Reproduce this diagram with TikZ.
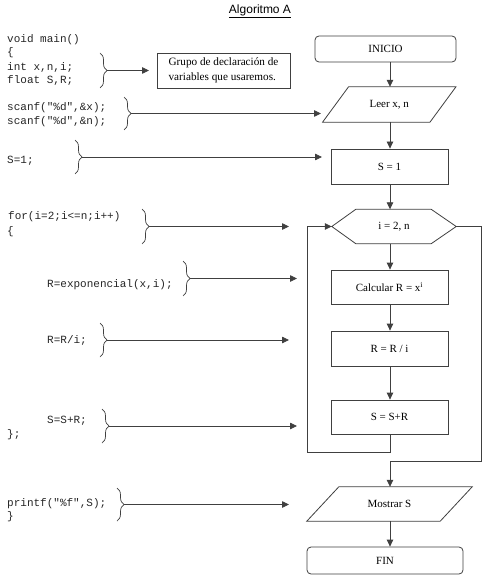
\documentclass[tikz,border=0pt]{standalone}
\usepackage{fontspec}
\setmainfont{Liberation Serif}
\newfontfamily\codefont{Liberation Mono}
\newfontfamily\titlefont{Liberation Sans}
\usetikzlibrary{arrows.meta,decorations.pathreplacing,calc}
\begin{document}
\begin{tikzpicture}[x=1pt,y=-1pt,
  line/.style={draw=black!75, line width=0.8pt},
  arr/.style={line, -{Triangle[length=7pt,width=6.5pt]}},
  code/.style={anchor=west, inner sep=0pt, font=\codefont\fontsize{11}{13}\selectfont, text=black!85},
  box/.style={draw=black!75, line width=0.8pt, minimum width=117pt, minimum height=35pt, inner sep=0pt, font=\fontsize{11}{12}\selectfont},
  ghost/.style={minimum height=35pt, inner sep=0pt, font=\fontsize{11}{12}\selectfont},
  term/.style={box, rounded corners=4pt},
  brc/.style={line, line width=0.7pt, decorate, decoration={brace, amplitude=7pt}}]
\useasboundingbox[fill=white] (0,0) rectangle (491,577);

% title
\node[font=\titlefont\fontsize{12}{14}\selectfont, inner sep=0pt] (title) at (260,11) {\underline{Algoritmo A}};

% code
\node[code] (c1) at (7,40) {void main()};
\node[code] (c2) at (7,53) {\{};
\node[code] (c3) at (7,67) {int x,n,i;};
\node[code] (c4) at (7,80) {float S,R;};
\node[code] (c5) at (7,108) {scanf("\%d",\&x);};
\node[code] (c6) at (7,122) {scanf("\%d",\&n);};
\node[code] (c7) at (7,161) {S=1;};
\node[code] (c8) at (8,217) {for(i=2;i<=n;i++)};
\node[code] (c9) at (7,232) {\{};
\node[code] (c10) at (47,285) {R=exponencial(x,i);};
\node[code] (c11) at (47,340) {R=R/i;};
\node[code] (c12) at (47,421) {S=S+R;};
\node[code] (c13) at (7,435) {\};};
\node[code] (c14) at (7,504) {printf("\%f",S);};
\node[code] (c15) at (7,517) {\}};

% braces
\draw[brc] (100,53) -- (100,88);
\draw[brc] (124,97) -- (124,130);
\draw[brc] (75,140) -- (75,174);
\draw[brc] (142,209) -- (142,244);
\draw[brc] (183,261) -- (183,296);
\draw[brc] (100,323) -- (100,357);
\draw[brc] (102,409) -- (102,443);
\draw[brc] (117,488) -- (117,521);
\coordinate (b1) at (107,70.5);
\coordinate (b2) at (131,113.5);
\coordinate (b3) at (82,157);
\coordinate (b4) at (149,226.5);
\coordinate (b5) at (190,278.5);
\coordinate (b6) at (107,340);
\coordinate (b7) at (109,426);
\coordinate (b8) at (124,504.5);
\coordinate (e1) at (149,70.5);
\coordinate (e2) at (321,113.5);
\coordinate (e3) at (322,157);
\coordinate (e4) at (289,226.5);
\coordinate (e5) at (297,278.5);
\coordinate (e6) at (289,340);
\coordinate (e7) at (297,426);
\coordinate (e8) at (289,504.5);

% group box
\node[draw=black!75, line width=0.8pt, minimum width=133pt, minimum height=35pt, inner sep=0pt,
      align=left, font=\fontsize{11.2}{14.5}\selectfont] (grupo) at (223.5,70.5)
  {Grupo de declaración de\\variables que usaremos.};

% flowchart
\coordinate (axis) at (390,0);
\node[term, minimum width=141pt, minimum height=26pt] (inicio) at (385.5,49) {INICIO};
\node[ghost, minimum width=107pt] (leer) at (389.25,104.5) {Leer x, n};
\draw[line] ($(leer.north west)+(13,0)$) -- ($(leer.north east)+(13,0)$)
  -- ($(leer.south east)+(-13,0)$) -- ($(leer.south west)+(-13,0)$) -- cycle;
\node[box] (s1) at (389.5,166.5) {S = 1};
\node[ghost, minimum width=124pt, minimum height=34pt] (hex) at (394,226.5) {i = 2, n};
\draw[line] (hex.west) -- ($(hex.north west)+(24,0)$) -- ($(hex.north east)+(-25,0)$)
  -- (hex.east) -- ($(hex.south east)+(-25,0)$) -- ($(hex.south west)+(24,0)$) -- cycle;
\node[box, minimum height=34pt] (calc) at (389.5,287) {Calcular R = x$^{\mathrm{i}}$};
\node[box] (rri) at (389.5,348.5) {R = R / i};
\node[box, minimum height=34pt] (ssr) at (389.5,417) {S = S+R};
\node[ghost, minimum width=133pt, minimum height=34pt] (mostrar) at (389.5,504) {Mostrar S};
\draw[line] ($(mostrar.north west)+(16,0)$) -- ($(mostrar.north east)+(16,0)$)
  -- ($(mostrar.south east)+(-16,0)$) -- ($(mostrar.south west)+(-16,0)$) -- cycle;
\node[term, minimum width=156pt, minimum height=27pt] (fin) at (385,560.5) {FIN};

\draw[arr] (inicio.south -| axis) -- (leer.north -| axis);
\draw[arr] (leer.south -| axis) -- (s1.north -| axis);
\draw[arr] (s1.south -| axis) -- (hex.north -| axis);
\draw[arr] (hex.south -| axis) -- (calc.north -| axis);
\draw[arr] (calc.south -| axis) -- (rri.north -| axis);
\draw[arr] (rri.south -| axis) -- (ssr.north -| axis);
\draw[arr] (mostrar.south -| axis) -- (fin.north -| axis);

\coordinate (loopb) at (307,452);
\coordinate (exitr) at (481,461);
\draw[arr] (ssr.south -| axis) -- (loopb -| axis) -- (loopb) |- (hex.west);
\draw[arr] (hex.east) -| (exitr) -| (mostrar.north -| axis);

% code-to-flow connectors
\draw[arr] (b1) -- (e1);
\draw[arr] (b2) -- (e2);
\draw[arr] (b3) -- (e3);
\draw[arr] (b4) -- (e4);
\draw[arr] (b5) -- (e5);
\draw[arr] (b6) -- (e6);
\draw[arr] (b7) -- (e7);
\draw[arr] (b8) -- (e8);
\end{tikzpicture}
\end{document}
